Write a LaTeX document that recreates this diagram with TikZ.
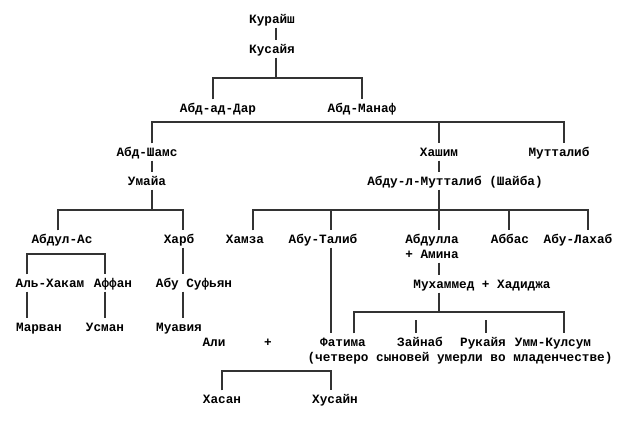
\documentclass[tikz,border=0pt]{standalone}
\usepackage{fontspec}
\newfontfamily\treefont{Liberation Mono}
\usepackage{tikz}

\begin{document}
\begin{tikzpicture}[x=1pt,y=-1pt,
    person/.style={inner sep=0pt,text height=12.6pt,text depth=4.4pt,
      font=\treefont\bfseries\fontsize{12.7}{14}\selectfont},
    link/.style={line width=1.2pt,black!80}]
    \useasboundingbox[fill=white] (0,0) rectangle (628,420);
    \begin{scope}
      % people
      \node[person] (kuraysh) at (272,19) {Курайш};
      \node[person] (kusaya) at (272,49) {Кусайя};
      \node[person] (abdaddar) at (218,108) {Абд-ад-Дар};
      \node[person] (abdmanaf) at (362,108) {Абд-Манаф};
      \node[person] (abdshams) at (147,152) {Абд-Шамс};
      \node[person] (hashim) at (439,152) {Хашим};
      \node[person] (muttalib) at (559,152) {Мутталиб};
      \node[person] (umaya) at (147,181) {Умайа};
      \node[person] (abdulmuttalib) at (455,181) {Абду-л-Мутталиб (Шайба)};
      \node[person] (abdulas) at (62,239) {Абдул-Ас};
      \node[person] (harb) at (179,239) {Харб};
      \node[person] (hamza) at (245,239) {Хамза};
      \node[person] (abutalib) at (323,239) {Абу-Талиб};
      \node[person] (abdulla) at (432,239) {Абдулла};
      \node[person] (amina) at (432,254) {+ Амина};
      \node[person] (abbas) at (510,239) {Аббас};
      \node[person] (abulahab) at (578,239) {Абу-Лахаб};
      \node[person] (alhakam) at (50,283) {Аль-Хакам};
      \node[person] (affan) at (113,283) {Аффан};
      \node[person] (abusufyan) at (194,283) {Абу Суфьян};
      \node[person] (muhammad) at (482,284) {Мухаммед + Хадиджа};
      \node[person] (marwan) at (39,327) {Марван};
      \node[person] (usman) at (105,327) {Усман};
      \node[person] (muawiya) at (179,327) {Муавия};
      \node[person] (ali) at (214,342) {Али};
      \node[person] (plus) at (268,342) {+};
      \node[person] (fatima) at (343,342) {Фатима};
      \node[person] (zaynab) at (420,342) {Зайнаб};
      \node[person] (rukaya) at (483,342) {Рукайя};
      \node[person] (ummkulsum) at (553,342) {Умм-Кулсум};
      \node[person] (sons) at (460,357) {(четверо сыновей умерли во младенчестве)};
      \node[person] (hasan) at (222,399) {Хасан};
      \node[person] (husayn) at (335,399) {Хусайн};

      % columns of the lines and heights of the bars
      \coordinate (kuraysh-x) at (276,0);
      \coordinate (abdaddar-x) at (213,0);
      \coordinate (abdmanaf-x) at (362,0);
      \coordinate (abdshams-x) at (152,0);
      \coordinate (hashim-x) at (439,0);
      \coordinate (muttalib-x) at (564,0);
      \coordinate (abdulas-x) at (58,0);
      \coordinate (harb-x) at (183,0);
      \coordinate (hamza-x) at (253,0);
      \coordinate (abutalib-x) at (331,0);
      \coordinate (abbas-x) at (509,0);
      \coordinate (abulahab-x) at (588,0);
      \coordinate (alhakam-x) at (27,0);
      \coordinate (affan-x) at (105,0);
      \coordinate (fatima-x) at (354,0);
      \coordinate (zaynab-x) at (416,0);
      \coordinate (rukaya-x) at (486,0);
      \coordinate (hasan-x) at (222,0);
      \coordinate (bar-kusaya) at (0,78);
      \coordinate (bar-manaf) at (0,122);
      \coordinate (bar-sons) at (0,210);
      \coordinate (bar-abdulas) at (0,254);
      \coordinate (bar-muhammad) at (0,312);
      \coordinate (tick-muhammad) at (0,320);
      \coordinate (bar-ali) at (0,371);

      % lines
      \draw[link] (kuraysh-x |- kuraysh.south) -- (kuraysh-x |- kusaya.north);
      \draw[link] (kuraysh-x |- kusaya.south) -- (kuraysh-x |- bar-kusaya);
      \draw[link] (abdaddar-x |- abdaddar.north) |- (abdmanaf-x |- bar-kusaya) -- (abdmanaf-x |- abdmanaf.north);
      \draw[link] (abdshams-x |- abdshams.north) |- (muttalib-x |- bar-manaf) -- (muttalib-x |- muttalib.north);
      \draw[link] (hashim-x |- bar-manaf) -- (hashim-x |- hashim.north);
      \draw[link] (abdshams-x |- abdshams.south) -- (abdshams-x |- umaya.north);
      \draw[link] (abdshams-x |- umaya.south) -- (abdshams-x |- bar-sons);
      \draw[link] (abdulas-x |- abdulas.north) |- (harb-x |- bar-sons) -- (harb-x |- harb.north);
      \draw[link] (hashim-x |- hashim.south) -- (hashim-x |- abdulmuttalib.north);
      \draw[link] (hashim-x |- abdulmuttalib.south) -- (hashim-x |- abdulla.north);
      \draw[link] (hamza-x |- hamza.north) |- (abulahab-x |- bar-sons) -- (abulahab-x |- abulahab.north);
      \foreach \son in {abutalib,abbas}
        \draw[link] (\son-x |- bar-sons) -- (\son-x |- \son.north);
      \draw[link] (alhakam-x |- alhakam.north) |- (affan-x |- bar-abdulas) -- (affan-x |- affan.north);
      \draw[link] (harb-x |- harb.south) -- (harb-x |- abusufyan.north);
      \foreach \son/\grandson in {alhakam/marwan,affan/usman,harb/muawiya}
        \draw[link] (\son-x |- alhakam.south) -- (\son-x |- \grandson.north);
      \draw[link] (abutalib-x |- abutalib.south) -- (abutalib-x |- fatima.north);
      \draw[link] (hashim-x |- amina.south) -- (hashim-x |- muhammad.north);
      \draw[link] (hashim-x |- muhammad.south) -- (hashim-x |- bar-muhammad);
      \draw[link] (fatima-x |- fatima.north) |- (muttalib-x |- bar-muhammad) -- (muttalib-x |- ummkulsum.north);
      \foreach \girl in {zaynab,rukaya}
        \draw[link] (\girl-x |- tick-muhammad) -- (\girl-x |- \girl.north);
      \draw[link] (hasan-x |- hasan.north) |- (abutalib-x |- bar-ali) -- (abutalib-x |- husayn.north);
    \end{scope}
\end{tikzpicture}
\end{document}
